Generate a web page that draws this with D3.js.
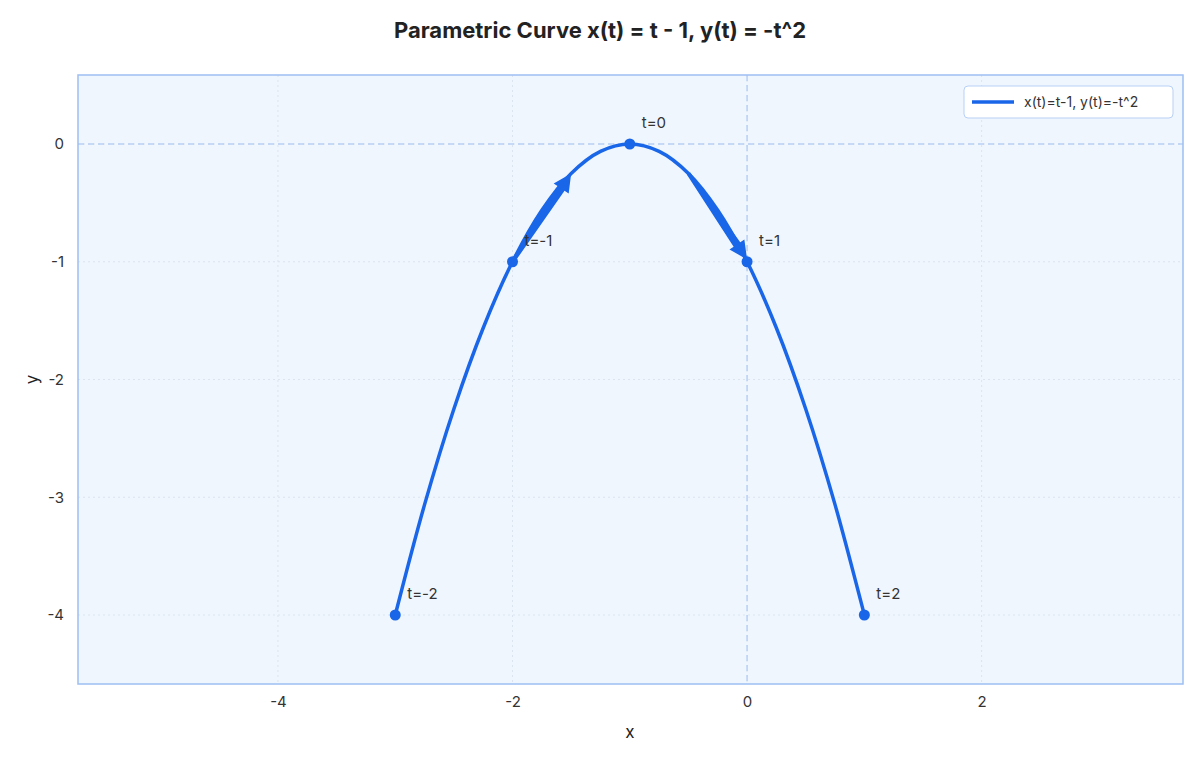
<!DOCTYPE html>
<html><head><meta charset="utf-8">
<script src="https://cdn.jsdelivr.net/npm/d3@7"></script>
<style>body{margin:0;background:#fff;font-family:Inter,"Noto Sans",sans-serif;}</style>
</head><body>
<script>
// curve samples read at t = -2 .. 2 step 0.25
var curveX = [-3, -2.75, -2.5, -2.25, -2, -1.75, -1.5, -1.25, -1, -0.75, -0.5, -0.25, 0, 0.25, 0.5, 0.75, 1];
var curveY = [-4, -3.0625, -2.25, -1.5625, -1, -0.5625, -0.25, -0.0625, 0, -0.0625, -0.25, -0.5625, -1, -1.5625, -2.25, -3.0625, -4];
var markLabels = ["t=-2", "t=-1", "t=0", "t=1", "t=2"];
var markX = [-3, -2, -1, 0, 1];
var markY = [-4, -1, 0, -1, -4];
var arrows = [[[-2, -1], [-1.5, -0.25]], [[-0.5, -0.25], [0, -0.98]]];
var xTicks = [-4, -2, 0, 2];
var yTicks = [0, -1, -2, -3, -4];

var W = 1200, H = 760, blue = "#1a66e8";
var svg = d3.select("body").append("svg").attr("width", W).attr("height", H);
var pLeft = 78, pRight = 1183, pTop = 75, pBottom = 684;
var x = d3.scaleLinear().domain([-5.705, 3.717]).range([pLeft, pRight]);
var y = d3.scaleLinear().domain([-4.586, 0.586]).range([pBottom, pTop]);

svg.append("rect").attr("x", pLeft).attr("y", pTop).attr("width", pRight - pLeft).attr("height", pBottom - pTop)
    .attr("fill", "#f0f6fd");

// grid
svg.selectAll(".gx").data(xTicks).enter().append("line")
    .attr("x1", d => x(d)).attr("x2", d => x(d)).attr("y1", pTop).attr("y2", pBottom)
    .attr("stroke", "#dbe4ef").attr("stroke-dasharray", "2,3");
svg.selectAll(".gy").data(yTicks).enter().append("line")
    .attr("y1", d => y(d)).attr("y2", d => y(d)).attr("x1", pLeft).attr("x2", pRight)
    .attr("stroke", "#dbe4ef").attr("stroke-dasharray", "2,3");
// zero lines
svg.append("line").attr("x1", x(0)).attr("x2", x(0)).attr("y1", pTop).attr("y2", pBottom)
    .attr("stroke", "#b8d0f5").attr("stroke-width", 1.5).attr("stroke-dasharray", "6,4");
svg.append("line").attr("y1", y(0)).attr("y2", y(0)).attr("x1", pLeft).attr("x2", pRight)
    .attr("stroke", "#b8d0f5").attr("stroke-width", 1.5).attr("stroke-dasharray", "6,4");

svg.append("rect").attr("x", pLeft).attr("y", pTop).attr("width", pRight - pLeft).attr("height", pBottom - pTop)
    .attr("fill", "none").attr("stroke", "#9dbff3").attr("stroke-width", 1.5);

// axes
var xa = svg.append("g").attr("transform", "translate(0," + pBottom + ")")
    .call(d3.axisBottom(x).tickValues(xTicks).tickSize(0).tickPadding(12).tickFormat(d => String(d)));
var ya = svg.append("g").attr("transform", "translate(" + pLeft + ",0)")
    .call(d3.axisLeft(y).tickValues(yTicks).tickSize(0).tickPadding(14).tickFormat(d => String(d)));
[xa, ya].forEach(function(g) {
    g.select(".domain").remove();
    g.selectAll("text").attr("font-size", 15).attr("fill", "#333").attr("font-family", "Inter, sans-serif");
});

svg.append("text").attr("x", W / 2).attr("y", 38).attr("text-anchor", "middle")
    .attr("font-size", 22).attr("font-weight", "bold").attr("fill", "#222")
    .text("Parametric Curve x(t) = t - 1, y(t) = -t^2");
svg.append("text").attr("x", x(-1)).attr("y", 738).attr("text-anchor", "middle")
    .attr("font-size", 17).attr("fill", "#222").text("x");
svg.append("text").attr("transform", "translate(38," + y(-2) + ") rotate(-90)").attr("text-anchor", "middle")
    .attr("font-size", 17).attr("fill", "#222").text("y");

// curve
var pts = curveX.map((d, i) => [d, curveY[i]]);
svg.append("path").datum(pts)
    .attr("d", d3.line().x(d => x(d[0])).y(d => y(d[1])).curve(d3.curveCatmullRom))
    .attr("fill", "none").attr("stroke", blue).attr("stroke-width", 3.5);

// arrows
arrows.forEach(function(a) {
    var x1 = x(a[0][0]), y1 = y(a[0][1]), x2 = x(a[1][0]), y2 = y(a[1][1]);
    var ang = Math.atan2(y2 - y1, x2 - x1), len = Math.hypot(x2 - x1, y2 - y1);
    var g = svg.append("g").attr("transform", "translate(" + x1 + "," + y1 + ") rotate(" + ang * 180 / Math.PI + ")");
    g.append("path").attr("d", "M0,-2 L" + (len - 18) + ",-4 L" + (len - 18) + ",-9 L" + len + ",0 L" + (len - 18) + ",9 L" + (len - 18) + ",4 L0,2 Z")
        .attr("fill", blue);
});

// markers
svg.selectAll(".m").data(markX).enter().append("circle")
    .attr("cx", d => x(d)).attr("cy", (d, i) => y(markY[i])).attr("r", 5.5).attr("fill", blue);
svg.selectAll(".ml").data(markLabels).enter().append("text")
    .attr("x", (d, i) => x(markX[i]) + 12).attr("y", (d, i) => y(markY[i]) - 16)
    .attr("font-size", 15).attr("fill", "#333").text(d => d);

// legend
var lg = svg.append("g").attr("transform", "translate(964,86)");
lg.append("rect").attr("width", 209).attr("height", 32).attr("rx", 4)
    .attr("fill", "#fff").attr("stroke", "#b8d0f5");
lg.append("line").attr("x1", 8).attr("x2", 50).attr("y1", 16).attr("y2", 16)
    .attr("stroke", blue).attr("stroke-width", 3.5);
lg.append("text").attr("x", 60).attr("y", 21).attr("font-size", 14).attr("fill", "#333")
    .text("x(t)=t-1, y(t)=-t^2");
</script>
</body></html>
